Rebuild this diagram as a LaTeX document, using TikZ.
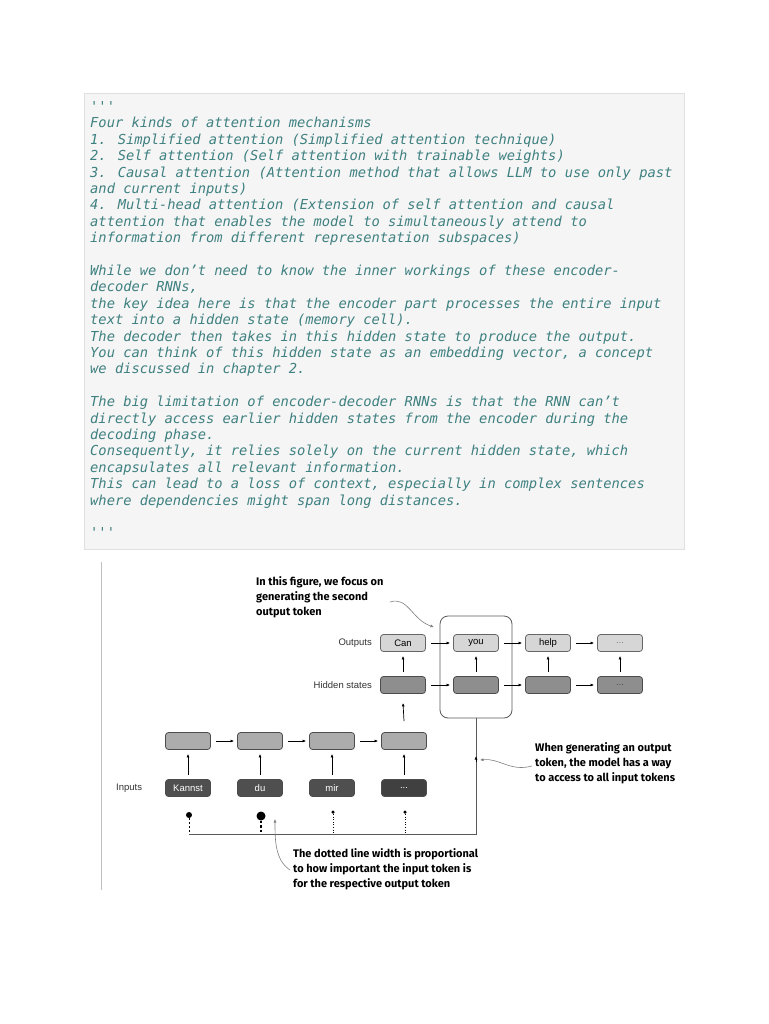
\documentclass[tikz,border=0pt]{standalone}
\usepackage{fontspec}
\setmainfont{Liberation Sans}
\newfontfamily\codefont{DejaVu Sans Mono}
\newfontfamily\annfont{Fira Sans}
\usetikzlibrary{arrows.meta}
\definecolor{codec}{HTML}{3F8080}
\definecolor{outc}{HTML}{D6D6D6}
\definecolor{hidc}{HTML}{8E8E8E}
\definecolor{inc}{HTML}{4F4F4F}
\newcommand{\cl}[3]{\node[codeline] (l#1) at (90,{111.5+16.4*#1}) {#3#2};}
\begin{document}
\begin{tikzpicture}[x=1pt,y=-1pt,
  codeline/.style={anchor=base west,inner sep=0,text=codec,font=\codefont\itshape\fontsize{13.75}{16}\selectfont},
  tok/.style={draw=gray!80!black,rounded corners=3pt,minimum width=45pt,minimum height=17pt,inner sep=0,font=\fontsize{9.5}{10}\selectfont,line width=0.8pt},
  outb/.style={tok,fill=outc},
  hidb/.style={tok,fill=hidc,draw=gray!60!black},
  inb/.style={tok,fill=inc,draw=black!70,text=white},
  lab/.style={font=\fontsize{9.5}{10}\selectfont,text=black!80,inner sep=0},
  ann/.style={font=\annfont\bfseries\fontsize{11}{15}\selectfont,align=left,inner sep=0,anchor=north west},
  arr/.style={-{Latex[length=3.5pt,width=3pt]},line width=0.7pt},
  lead/.style={gray,line width=0.6pt,-{Latex[length=3.5pt,width=3pt]}}]
\useasboundingbox (0,0) rectangle (768,1024);
\fill[white] (0,0) rectangle (768,1024);
\draw[draw=black!12,fill=black!4] (84,93) rectangle (684,549);
\cl{0}{'''}{}
\cl{1}{Four kinds of attention mechanisms}{}
\cl{2}{1. Simplified attention (Simplified attention technique)}{}
\cl{3}{2. Self attention (Self attention with trainable weights)}{}
\cl{4}{3. Causal attention (Attention method that allows LLM to use only past}{}
\cl{5}{and current inputs)}{}
\cl{6}{4. Multi-head attention (Extension of self attention and causal}{}
\cl{7}{attention that enables the model to simultaneously attend to}{}
\cl{8}{information from different representation subspaces)}{}
\cl{10}{While we don’t need to know the inner workings of these encoder-}{}
\cl{11}{decoder RNNs,}{}
\cl{12}{the key idea here is that the encoder part processes the entire input}{}
\cl{13}{text into a hidden state (memory cell).}{}
\cl{14}{The decoder then takes in this hidden state to produce the output.}{}
\cl{15}{You can think of this hidden state as an embedding vector, a concept}{}
\cl{16}{we discussed in chapter 2.}{}
\cl{18}{The big limitation of encoder-decoder RNNs is that the RNN can’t}{}
\cl{19}{directly access earlier hidden states from the encoder during the}{}
\cl{20}{decoding phase.}{}
\cl{21}{Consequently, it relies solely on the current hidden state, which}{}
\cl{22}{encapsulates all relevant information.}{}
\cl{23}{This can lead to a loss of context, especially in complex sentences}{}
\cl{24}{where dependencies might span long distances.}{}
\cl{26}{'''}{}
% diagram
\draw[black!25,line width=0.8pt] (101,562) -- (101,890);
\draw[gray!70!black,line width=0.8pt,rounded corners=8pt] (440,616) rectangle (512,718);
\node[outb] (o1) at (403,643) {Can};
\node[outb] (o2) at (476,643) {you};
\node[outb] (o3) at (548,643) {help};
\node[outb,text=gray] (o4) at (620,643) {...};
\node[hidb] (h1) at (403,685) {};
\node[hidb] (h2) at (476,685) {};
\node[hidb] (h3) at (548,685) {};
\node[hidb,text=black!70] (h4) at (620,685) {...};
\node[hidb,fill=gray!65] (e1) at (188,741) {};
\node[hidb,fill=gray!65] (e2) at (260,741) {};
\node[hidb,fill=gray!65] (e3) at (332,741) {};
\node[hidb,fill=gray!65] (e4) at (404,741) {};
\node[inb] (i1) at (188,788) {Kannst};
\node[inb] (i2) at (260,788) {du};
\node[inb] (i3) at (332,788) {mir};
\node[inb,fill=black!75] (i4) at (404,788) {...};
\node[lab,anchor=east] (lo) at (372,643) {Outputs};
\node[lab,anchor=east] (lh) at (372,685) {Hidden states};
\node[lab,anchor=west] (li) at (116,788) {Inputs};
\foreach \a/\b in {o1/o2,o2/o3,o3/o4,h1/h2,h2/h3,h3/h4,e1/e2,e2/e3,e3/e4}
  \draw[arr] ([xshift=5pt]\a.east) -- ([xshift=-3pt]\b.west);
\foreach \a/\b in {h1/o1,h2/o2,h3/o3,h4/o4,i1/e1,i2/e2,i3/e3,i4/e4}
  \draw[arr] ([yshift=4pt]\a.north) -- ([yshift=-4pt]\b.south);
\draw[arr] ([yshift=11pt]e4.north) -- ([yshift=-9pt]h1.south);
% attention lines
\coordinate (c0) at (476,718);
\coordinate (c1) at (476,834);
\coordinate (d1) at (189,834);
\draw[gray!70!black,line width=0.8pt] (c0) -- (c1) -- (d1);
\draw[arr] (476,762) -- (476,756);
\node[circle,fill=black,inner sep=0,minimum size=6pt] (p1) at (189,815) {};
\node[circle,fill=black,inner sep=0,minimum size=9pt] (p2) at (261,816) {};
\node[circle,fill=black,inner sep=0,minimum size=3.5pt] (p3) at (333,812) {};
\node[circle,fill=black,inner sep=0,minimum size=3.5pt] (p4) at (405,812) {};
\draw[line width=0.9pt,dash pattern=on 2pt off 2pt] (p1) -- (189,834);
\draw[line width=1.3pt,dash pattern=on 2.5pt off 2pt] (p2) -- (261,834);
\draw[dotted,line width=0.6pt] (p3) -- (333,834);
\draw[dotted,line width=0.6pt] (p4) -- (405,834);
% annotations
\node[ann] (a1) at (256,576) {In this figure, we focus on\\generating the second\\output token};
\node[ann] (a2) at (535,742) {When generating an output\\token, the model has a way\\to access to all input tokens};
\node[ann] (a3) at (293,848) {The dotted line width is proportional\\to how important the input token is\\for the respective output token};
\draw[lead] (390,602) .. controls (408,596) and (412,620) .. (434,627);
\draw[lead] (532,766) .. controls (510,772) and (500,758) .. (480,760);
\draw[lead] (290,870) .. controls (275,860) and (275,840) .. (275,819);
\end{tikzpicture}
\end{document}
